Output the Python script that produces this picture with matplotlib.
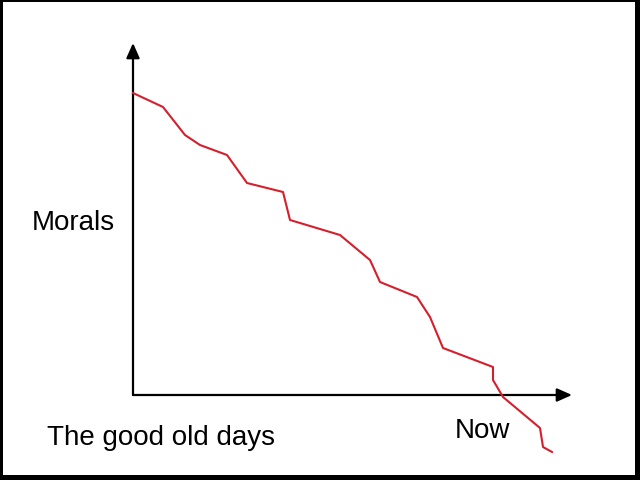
import matplotlib
matplotlib.use("Agg")
import matplotlib.pyplot as plt

# time since "the good old days" vs. morals
time = [0, 30, 52, 67, 94, 114, 150, 157, 207, 237, 247, 284, 297, 310,
        360, 360, 370, 407, 410, 419]
morals = [302, 288, 260, 250, 240, 212, 203, 175, 160, 135, 113, 98, 78, 47,
          28, 15, -2, -33, -52, -57]

y_label = "Morals"
x_start_label = "The good old days"
x_end_label = "Now"

plt.rcParams["font.family"] = ["Liberation Sans", "DejaVu Sans"]

fig = plt.figure(figsize=(6.4, 4.8), dpi=100)
fig.patch.set_facecolor("black")
ax = fig.add_axes([3 / 640, 5 / 480, 632 / 640, 473 / 480])
ax.set_xlim(-130, 502)
ax.set_ylim(-80, 393)
ax.axis("off")
# keep the white panel visible even with axis off
ax.add_patch(plt.Rectangle((0, 0), 1, 1, transform=ax.transAxes,
                           facecolor="white", zorder=0))

arrow = dict(arrowstyle="-|>,head_length=0.9,head_width=0.4",
             color="black", lw=1.6, shrinkA=0, shrinkB=0)
ax.annotate("", xy=(439, 0), xytext=(0, 0), arrowprops=arrow, zorder=2)
ax.annotate("", xy=(0, 352), xytext=(0, 0), arrowprops=arrow, zorder=2)

ax.plot(time, morals, color="#d41f2c", lw=1.5, zorder=3)

ax.text(-101, 165, y_label, fontsize=20, ha="left", va="baseline")
ax.text(-86, -50, x_start_label, fontsize=20, ha="left", va="baseline")
ax.text(322, -43, x_end_label, fontsize=20, ha="left", va="baseline")

fig.savefig("out.png", dpi=100, facecolor=fig.get_facecolor())
